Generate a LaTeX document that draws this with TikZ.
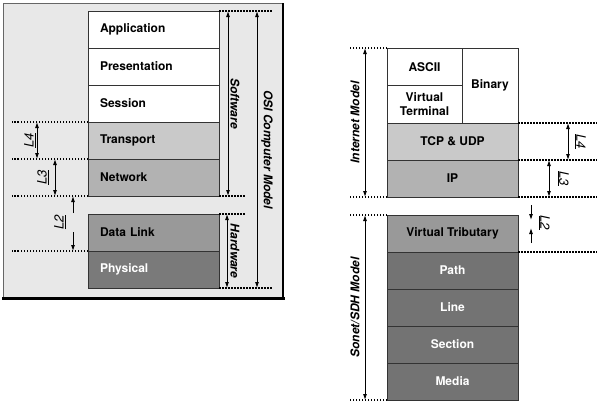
\documentclass[tikz,border=0pt]{standalone}
\usepackage{fontspec}
\setmainfont{TeX Gyre Heros}
\usetikzlibrary{positioning,arrows.meta}

\definecolor{panelgray}{gray}{0.91}
\definecolor{grayT}{gray}{0.79}
\definecolor{grayN}{gray}{0.70}
\definecolor{grayD}{gray}{0.60}
\definecolor{grayP}{gray}{0.48}
\definecolor{grayS}{gray}{0.45}

\newcommand{\lyr}[1]{\underline{\textit{#1}}}

\tikzset{
	box/.style={draw=black!80, line width=1pt, minimum height=37pt, inner sep=0pt,
		outer sep=0pt, font=\fontsize{12}{14}\selectfont\bfseries},
	osi/.style={box, text width=107pt, inner xsep=12pt, align=left},
	inet/.style={box, minimum width=131pt, align=center},
	dots/.style={line width=1.2pt, dash pattern=on 1.5pt off 1.5pt},
	dim/.style={{Latex[length=6pt,width=4pt]}-{Latex[length=6pt,width=4pt]}, line width=0.9pt},
	tip/.style={-{Latex[length=6pt,width=4pt]}, line width=0.9pt},
	tag/.style={font=\fontsize{12}{14}\selectfont\bfseries\itshape, inner sep=1pt},
	lvl/.style={font=\fontsize{13}{15}\selectfont, inner sep=1pt},
}

\begin{document}
\begin{tikzpicture}[x=1pt, y=-1pt]
		\useasboundingbox (0,0) rectangle (597,402);
		% OSI panel
		\fill[panelgray] (3,3) rectangle (283,298);
		\draw[black!60, line width=.8pt] (3,298) |- (283,3);
		\draw[line width=1.5pt] (283,3) -- (283,298);
		\draw[line width=3pt] (2,298) -- (284.5,298);

		% OSI layers
		\node[osi, anchor=north west, fill=white] (app) at (88,11) {Application};
		\node[osi, below=0pt of app, fill=white] (pres) {Presentation};
		\node[osi, below=0pt of pres, fill=white] (sess) {Session};
		\node[osi, below=0pt of sess, fill=grayT] (trans) {Transport};
		\node[osi, below=0pt of trans, fill=grayN] (net) {Network};
		\node[osi, below=18pt of net, fill=grayD] (dlink) {Data Link};
		\node[osi, below=0pt of dlink, fill=grayP, text=white] (phys) {Physical};

		\draw[dots] (trans.north west) -- ++(-76,0);
		\draw[dots] (net.north west) -- ++(-76,0);
		\draw[dots] (net.south west) -- ++(-76,0);
		\draw[dots] (phys.north west) -- ++(-76,0);
		\draw[dots] (net.south east) -- ++(26,0);
		\draw[dots] (dlink.north east) -- ++(26,0);
		\draw[dots] (app.north east) -- ++(54,0);
		\draw[dots] (phys.south east) -- ++(54,0);

		\draw[dim] ([xshift=-51pt]trans.north west) -- ([xshift=-51pt]trans.south west)
		node[midway, xshift=-7pt, rotate=90, lvl] {\lyr{L4}};
		\draw[dim] ([xshift=-33pt]net.north west) -- ([xshift=-33pt]net.south west)
		node[midway, xshift=-12pt, rotate=90, lvl] {\lyr{L3}};
		\draw[tip] ([xshift=-15pt,yshift=-17pt]net.south west) -- ([xshift=-15pt]net.south west);
		\draw[tip] ([xshift=-15pt,yshift=19pt]phys.north west) -- ([xshift=-15pt]phys.north west);
		\node[lvl, rotate=90] (l2osi) at (60,222) {\lyr{L2}};

		\draw[dim] ([xshift=9pt]app.north east) -- ([xshift=9pt]net.south east)
		node[midway, xshift=7pt, rotate=-90, tag] {Software};
		\draw[dim] ([xshift=8pt]dlink.north east) -- ([xshift=8pt]phys.south east)
		node[midway, xshift=8pt, rotate=-90, tag] {Hardware};
		\draw[dim] ([xshift=38pt]app.north east) -- ([xshift=38pt]phys.south east)
		node[midway, xshift=10pt, rotate=-90, tag] {OSI Computer Model};

		% Internet layers
		\node[inet, anchor=north west, minimum width=75pt, minimum height=37.5pt, fill=white] (ascii) at (387,48) {ASCII};
		\node[inet, below=0pt of ascii, minimum width=75pt, minimum height=37.5pt, fill=white] (vterm) {Virtual\\Terminal};
		\node[inet, anchor=north west, minimum width=56pt, minimum height=75pt, fill=white] (binary) at (ascii.north east) {Binary};
		\node[inet, anchor=north west, fill=grayT] (tcp) at (vterm.south west) {TCP \& UDP};
		\node[inet, below=0pt of tcp, fill=grayN] (ip) {IP};

		% Sonet/SDH layers
		\node[inet, anchor=north west, fill=grayD] (vtrib) at (387,215) {Virtual Tributary};
		\node[inet, below=0pt of vtrib, fill=grayS, text=white] (path) {Path};
		\node[inet, below=0pt of path, fill=grayS, text=white] (line) {Line};
		\node[inet, below=0pt of line, fill=grayS, text=white] (section) {Section};
		\node[inet, below=0pt of section, fill=grayS, text=white] (media) {Media};

		\draw[dots] (ascii.north west) -- ++(-39,0);
		\draw[dots] (ip.south west) -- ++(-39,0);
		\draw[dots] (vtrib.north west) -- ++(-39,0);
		\draw[dots] (media.south west) -- ++(-39,0);
		\draw[dots] (tcp.north east) -- ++(79,0);
		\draw[dots] (ip.north east) -- ++(79,0);
		\draw[dots] (ip.south east) -- ++(79,0);
		\draw[dots] (path.north east) -- ++(79,0);

		\draw[dim] ([xshift=-22pt]ascii.north west) -- ([xshift=-22pt]ip.south west)
		node[midway, xshift=-10pt, rotate=90, tag] {Internet Model};
		\draw[dim] ([xshift=-22pt]vtrib.north west) -- ([xshift=-22pt]media.south west)
		node[midway, xshift=-10pt, rotate=90, tag] {Sonet/SDH Model};

		\draw[dim] ([xshift=50pt]tcp.north east) -- ([xshift=50pt]tcp.south east)
		node[midway, xshift=12pt, rotate=-90, lvl] {\lyr{L4}};
		\draw[dim] ([xshift=31pt]ip.north east) -- ([xshift=31pt]ip.south east)
		node[midway, xshift=14pt, rotate=-90, lvl] {\lyr{L3}};
		\draw[tip] ([xshift=13pt,yshift=10pt]vtrib.north east) -- ([xshift=13pt,yshift=-5pt]vtrib.north east);
		\draw[tip] ([xshift=13pt,yshift=9pt]vtrib.south east) -- ([xshift=13pt,yshift=24pt]vtrib.south east);
		\node[lvl, rotate=-90] (l2inet) at (544,223) {\lyr{L2}};
	\end{tikzpicture}
\end{document}
